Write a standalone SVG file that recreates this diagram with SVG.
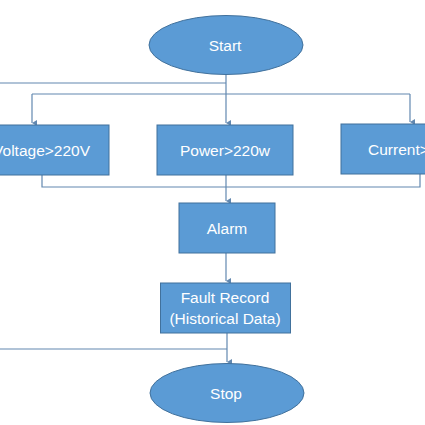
<svg xmlns="http://www.w3.org/2000/svg" width="425" height="425" viewBox="0 0 425 425">
<style>
.n{fill:#5B9BD5;stroke:#41719C;stroke-width:1}
.t{fill:#ffffff;font-family:"Liberation Sans",Arial,sans-serif;font-size:15.5px;text-anchor:middle}
.c{fill:none;stroke:#6288B0;stroke-width:1.2}
</style>
<defs>
<marker id="a" markerWidth="8" markerHeight="8" refX="4" refY="6" orient="auto-start-reverse" markerUnits="userSpaceOnUse" viewBox="0 0 8 8">
<path d="M1,1 L4,6 L7,1 Z" fill="#6288B0"/>
</marker>
</defs>
<rect width="425" height="425" fill="#ffffff"/>
<g id="connectors">
<path class="c" d="M226,75 V123" marker-end="url(#a)"/>
<path class="c" d="M0,83 H226"/>
<path class="c" d="M32,94 H410"/>
<path class="c" d="M32,94 V123" marker-end="url(#a)"/>
<path class="c" d="M410,94 V122" marker-end="url(#a)"/>
<path class="c" d="M42,175 V187 H420 V174"/>
<path class="c" d="M226,175 V201" marker-end="url(#a)"/>
<path class="c" d="M226,253 V281" marker-end="url(#a)"/>
<path class="c" d="M227,333 V362" marker-end="url(#a)"/>
<path class="c" d="M0,349 H227"/>
</g>
<g id="start">
<ellipse class="n" cx="226" cy="45" rx="77" ry="29.5"/>
<text class="t" x="225" y="51">Start</text>
</g>
<g id="voltage">
<rect class="n" x="-40" y="125" width="149" height="50"/>
<text class="t" x="90" y="156" style="text-anchor:end">Voltage&gt;220V</text>
</g>
<g id="power">
<rect class="n" x="157" y="125" width="136" height="50"/>
<text class="t" x="225" y="156">Power&gt;220w</text>
</g>
<g id="current">
<rect class="n" x="341" y="124" width="120" height="50"/>
<text class="t" x="368" y="155" style="text-anchor:start">Current&gt;</text>
</g>
<g id="alarm">
<rect class="n" x="179" y="203" width="96" height="50"/>
<text class="t" x="227" y="234">Alarm</text>
</g>
<g id="fault">
<rect class="n" x="160.5" y="283" width="130" height="50"/>
<text class="t" x="225" y="303">Fault Record</text>
<text class="t" x="225" y="324">(Historical Data)</text>
</g>
<g id="stop">
<ellipse class="n" cx="227" cy="393" rx="77" ry="29.5"/>
<text class="t" x="226" y="399">Stop</text>
</g>
</svg>
